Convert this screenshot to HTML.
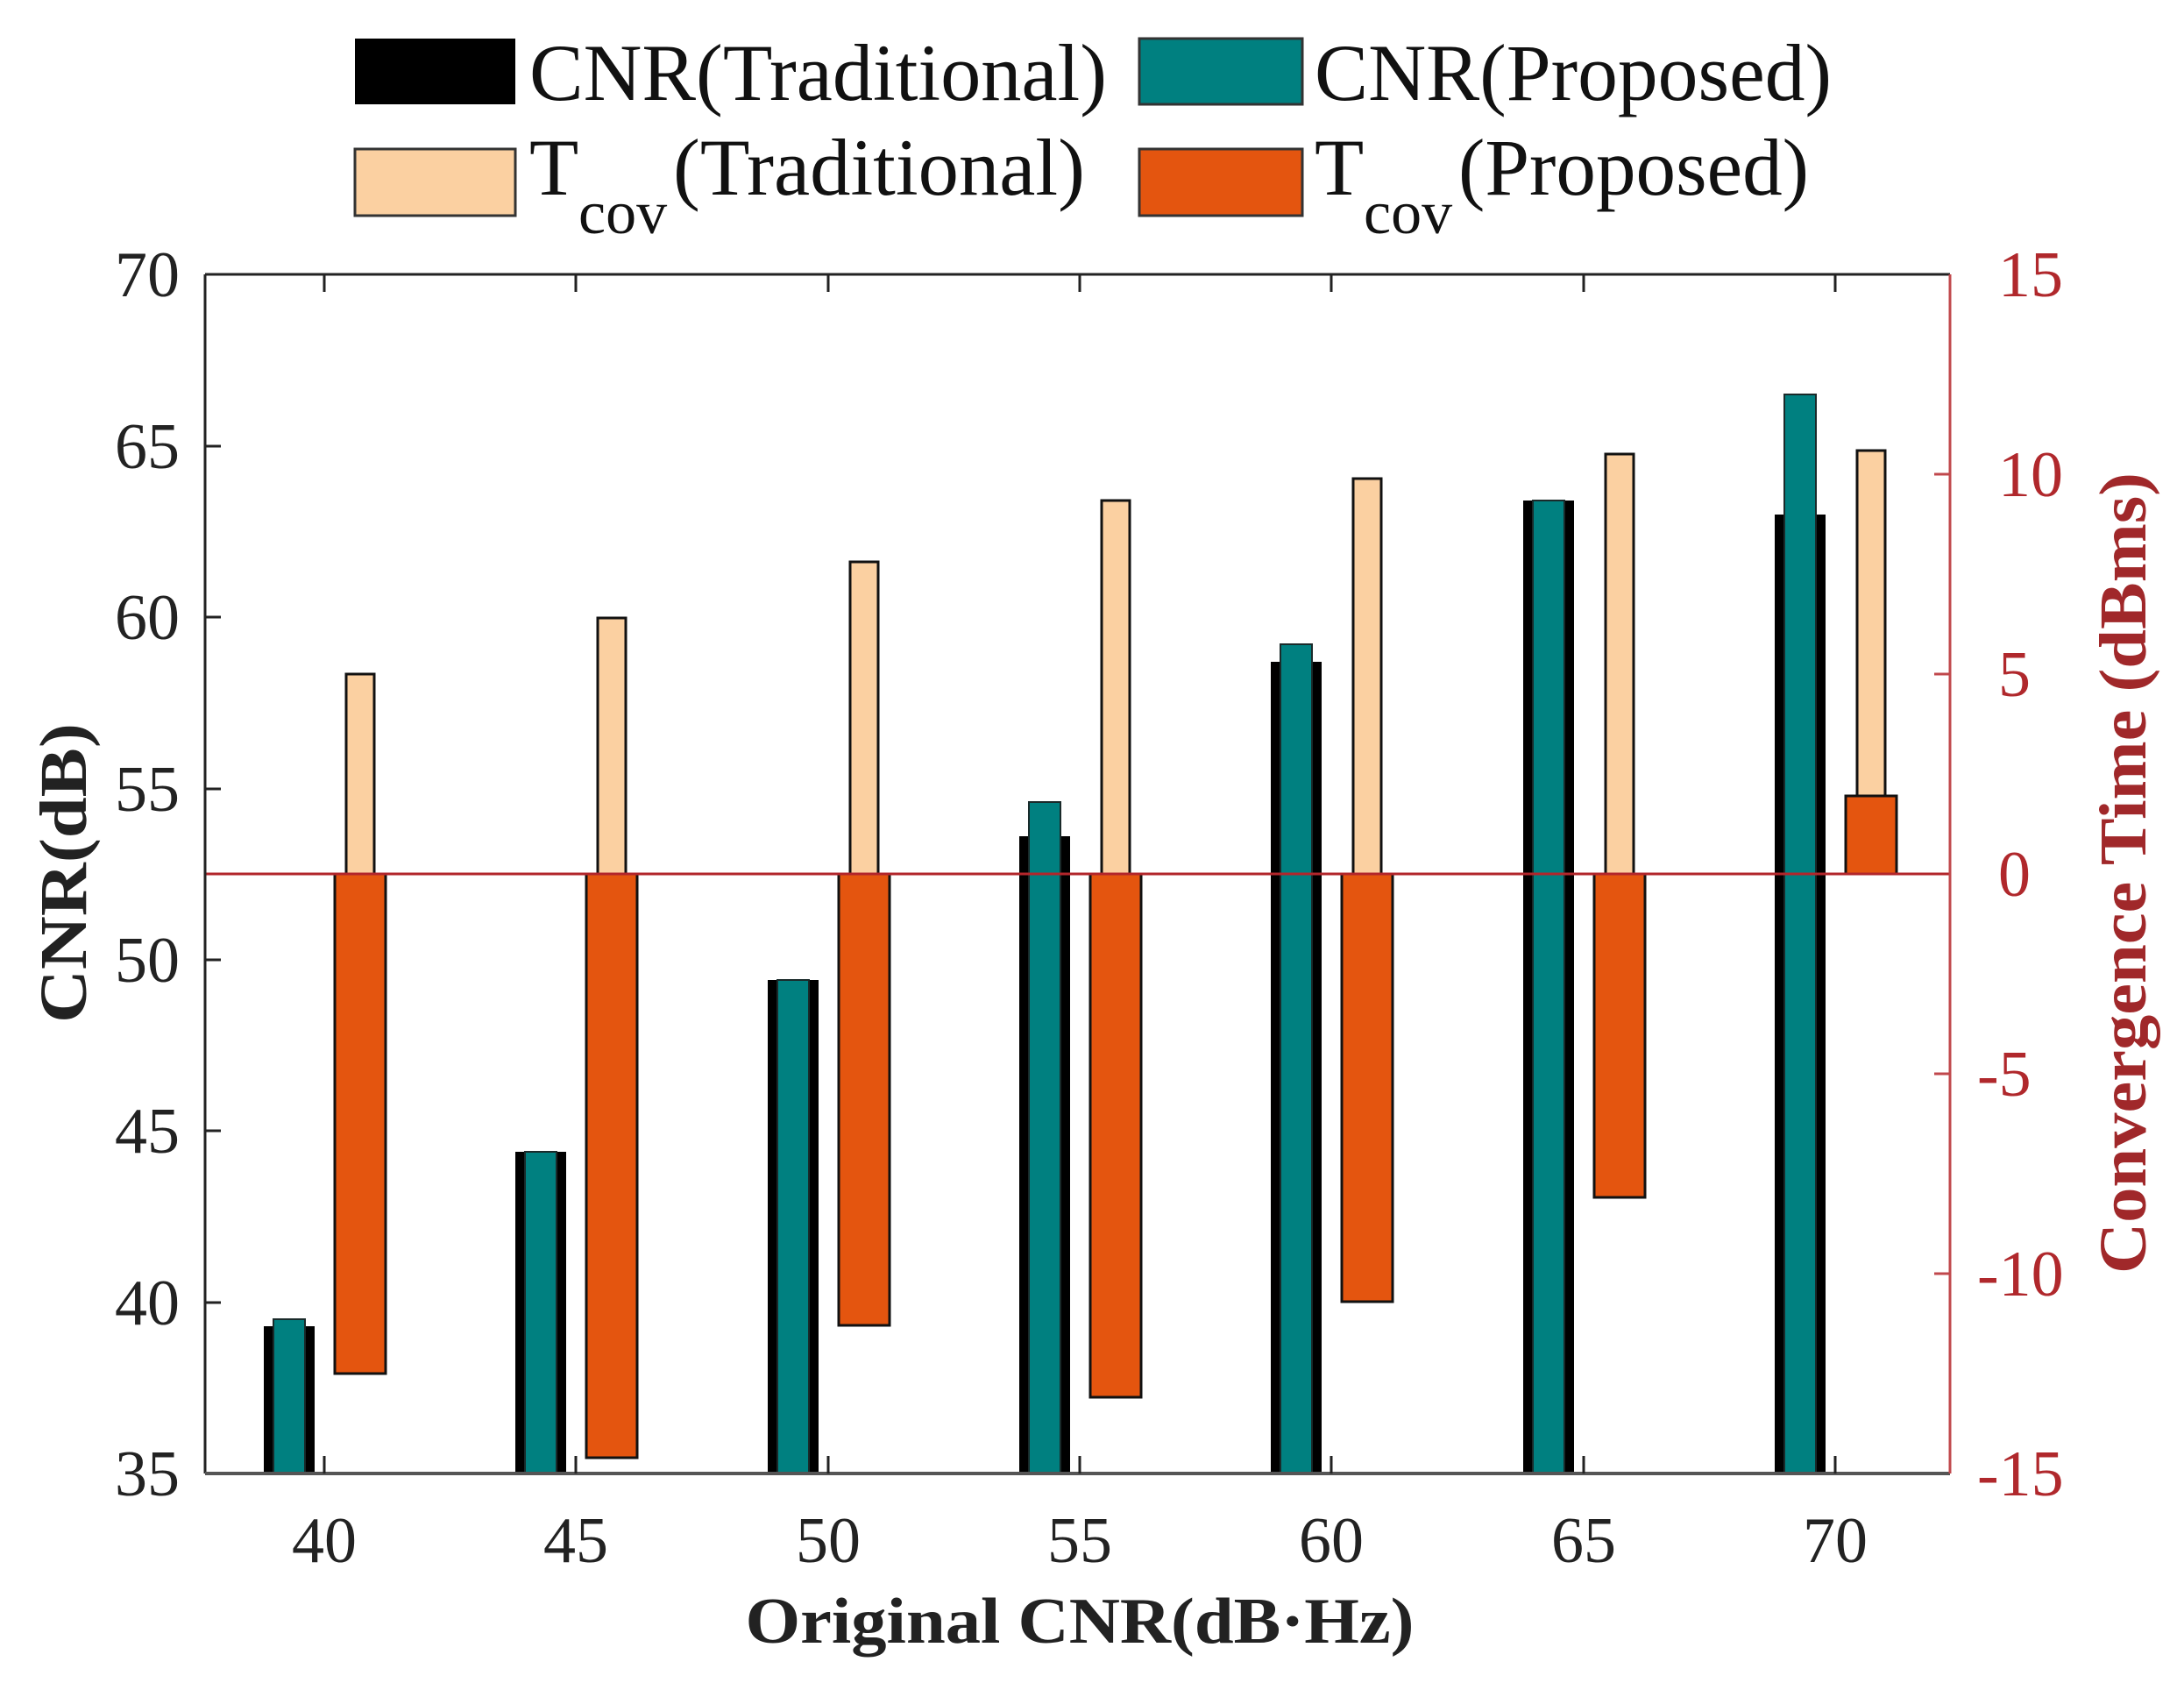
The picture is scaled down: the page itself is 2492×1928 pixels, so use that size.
<!DOCTYPE html>
<html><head><meta charset="utf-8"><style>html,body{margin:0;padding:0;background:#fff}svg{display:block}</style></head>
<body>
<svg width="2492" height="1928" viewBox="0 0 2492 1928" xmlns="http://www.w3.org/2000/svg" font-family="Liberation Serif, serif">
<rect width="2492" height="1928" fill="#fff"/>
<g fill="#000">
<rect x="301" y="1513" width="58" height="168"/>
<rect x="588" y="1314" width="58" height="367"/>
<rect x="876" y="1118" width="58" height="563"/>
<rect x="1163" y="954" width="58" height="727"/>
<rect x="1450" y="755" width="58" height="926"/>
<rect x="1738" y="571" width="58" height="1110"/>
<rect x="2025" y="587" width="58" height="1094"/>
</g>
<g fill="#008080" stroke="#1a2a2a" stroke-width="2">
<rect x="312" y="1505" width="36" height="176"/>
<rect x="599" y="1314" width="36" height="367"/>
<rect x="887" y="1118" width="36" height="563"/>
<rect x="1174" y="915" width="36" height="766"/>
<rect x="1461" y="735" width="36" height="946"/>
<rect x="1749" y="571" width="36" height="1110"/>
<rect x="2036" y="450" width="36" height="1231"/>
</g>
<g fill="#fbd0a1" stroke="#111" stroke-width="3">
<rect x="395" y="769" width="32" height="228"/>
<rect x="682" y="705" width="32" height="292"/>
<rect x="970" y="641" width="32" height="356"/>
<rect x="1257" y="571" width="32" height="426"/>
<rect x="1544" y="546" width="32" height="451"/>
<rect x="1832" y="518" width="32" height="479"/>
<rect x="2119" y="514" width="32" height="483"/>
</g>
<g fill="#e4550f" stroke="#111" stroke-width="3">
<rect x="382" y="997" width="58" height="570"/>
<rect x="669" y="997" width="58" height="666"/>
<rect x="957" y="997" width="58" height="515"/>
<rect x="1244" y="997" width="58" height="597"/>
<rect x="1531" y="997" width="58" height="488"/>
<rect x="1819" y="997" width="58" height="369"/>
<rect x="2106" y="908" width="58" height="89"/>
</g>
<line x1="234" y1="997" x2="2225" y2="997" stroke="#b2262b" stroke-width="3"/>
<line x1="234" y1="313" x2="2225" y2="313" stroke="#222" stroke-width="3"/>
<line x1="234" y1="313" x2="234" y2="1681" stroke="#222" stroke-width="3"/>
<line x1="234" y1="1681" x2="2225" y2="1681" stroke="#555" stroke-width="4"/>
<line x1="2225" y1="313" x2="2225" y2="1681" stroke="#c0484c" stroke-width="3"/>
<g stroke="#222" stroke-width="3">
<line x1="234" y1="509" x2="252" y2="509"/><line x1="234" y1="704" x2="252" y2="704"/><line x1="234" y1="900" x2="252" y2="900"/><line x1="234" y1="1095" x2="252" y2="1095"/><line x1="234" y1="1290" x2="252" y2="1290"/><line x1="234" y1="1486" x2="252" y2="1486"/>
<line x1="370" y1="313" x2="370" y2="333"/><line x1="657" y1="313" x2="657" y2="333"/><line x1="945" y1="313" x2="945" y2="333"/><line x1="1232" y1="313" x2="1232" y2="333"/><line x1="1519" y1="313" x2="1519" y2="333"/><line x1="1807" y1="313" x2="1807" y2="333"/><line x1="2094" y1="313" x2="2094" y2="333"/>
<line x1="370" y1="1681" x2="370" y2="1661"/><line x1="657" y1="1681" x2="657" y2="1661"/><line x1="945" y1="1681" x2="945" y2="1661"/><line x1="1232" y1="1681" x2="1232" y2="1661"/><line x1="1519" y1="1681" x2="1519" y2="1661"/><line x1="1807" y1="1681" x2="1807" y2="1661"/><line x1="2094" y1="1681" x2="2094" y2="1661"/>
</g>
<g stroke="#c0484c" stroke-width="3">
<line x1="2225" y1="541" x2="2207" y2="541"/><line x1="2225" y1="769" x2="2207" y2="769"/><line x1="2225" y1="1225" x2="2207" y2="1225"/><line x1="2225" y1="1453" x2="2207" y2="1453"/>
</g>
<g font-size="74" fill="#222" text-anchor="end">
<text x="205" y="338">70</text><text x="205" y="534">65</text><text x="205" y="729">60</text><text x="205" y="925">55</text><text x="205" y="1120">50</text><text x="205" y="1315">45</text><text x="205" y="1511">40</text><text x="205" y="1706">35</text>
</g>
<g font-size="74" fill="#222" text-anchor="middle">
<text x="370" y="1782">40</text><text x="657" y="1782">45</text><text x="945" y="1782">50</text><text x="1232" y="1782">55</text><text x="1519" y="1782">60</text><text x="1807" y="1782">65</text><text x="2094" y="1782">70</text>
</g>
<g font-size="74" fill="#b0282c" text-anchor="start">
<text x="2280" y="338">15</text><text x="2280" y="566">10</text><text x="2280" y="794">5</text><text x="2280" y="1022">0</text><text x="2256" y="1250">-5</text><text x="2256" y="1478">-10</text><text x="2256" y="1706">-15</text>
</g>
<text x="1232" y="1874" font-size="74" font-weight="bold" fill="#222" text-anchor="middle" textLength="763" lengthAdjust="spacingAndGlyphs">Original CNR(dB·Hz)</text>
<text transform="translate(98,996) rotate(-90)" font-size="76" font-weight="bold" fill="#222" text-anchor="middle" textLength="342" lengthAdjust="spacingAndGlyphs">CNR(dB)</text>
<text transform="translate(2448,996) rotate(-90)" font-size="76" font-weight="bold" fill="#a0282a" text-anchor="middle" textLength="914" lengthAdjust="spacingAndGlyphs">Convergence Time (dBms)</text>
<rect x="405" y="44" width="183" height="75" fill="#000"/>
<rect x="1300" y="44" width="186" height="75" fill="#008080" stroke="#333" stroke-width="3"/>
<rect x="405" y="170" width="183" height="76" fill="#fbd0a1" stroke="#333" stroke-width="3"/>
<rect x="1300" y="170" width="186" height="76" fill="#e4550f" stroke="#333" stroke-width="3"/>
<g font-size="92" fill="#111">
<text x="604" y="114" textLength="659" lengthAdjust="spacingAndGlyphs">CNR(Traditional)</text>
<text x="1500" y="114" textLength="590" lengthAdjust="spacingAndGlyphs">CNR(Proposed)</text>
<text x="604" y="222">T</text><text x="660" y="266" font-size="70">cov</text><text x="768" y="222" textLength="470" lengthAdjust="spacingAndGlyphs">(Traditional)</text>
<text x="1500" y="222">T</text><text x="1556" y="266" font-size="70">cov</text><text x="1664" y="222" textLength="400" lengthAdjust="spacingAndGlyphs">(Proposed)</text>
</g>
</svg>
</body></html>
